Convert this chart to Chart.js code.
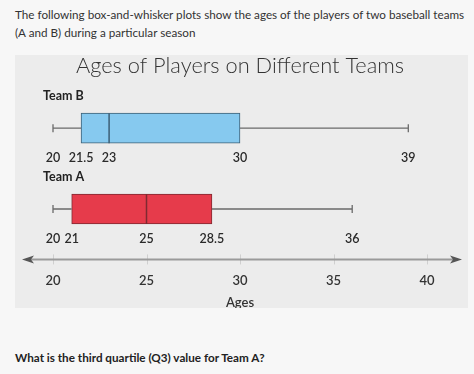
<!DOCTYPE html>
<html lang="en">
<head>
    <meta charset="UTF-8">
    <title>Ages of Players on Different Teams</title>
    <script src="https://cdn.jsdelivr.net/npm/chart.js"></script>
    <style>
        body {
            margin: 0;
            width: 474px;
            height: 374px;
            background: #f7f7f7;
            font-family: "Lato", sans-serif;
            color: #333;
            position: relative;
            overflow: hidden;
        }
        #intro {
            position: absolute;
            left: 15px;
            top: 5px;
            width: 455px;
            font-size: 11.7px;
            line-height: 18px;
        }
        #panel {
            position: absolute;
            left: 15px;
            top: 55px;
            width: 453px;
            height: 253px;
            background: #ececec;
        }
        #question {
            position: absolute;
            left: 15px;
            top: 350px;
            font-size: 11.7px;
            font-weight: bold;
            color: #222;
        }
    </style>
</head>
<body>

    <div id="intro">The following box-and-whisker plots show the ages of the players of two baseball teams (A and B) during a particular season</div>

    <div id="panel">
        <canvas id="myChart" width="453" height="253"></canvas>
    </div>

    <div id="question">What is the third quartile (Q3) value for Team A?</div>

    <script>
        // Dados dos box plots
        const teams = ['Team B', 'Team A'];
        const mins = [20, 20];
        const q1s = [21.5, 21];
        const medians = [23, 25];
        const q3s = [30, 28.5];
        const maxs = [39, 36];
        const axisTicks = [20, 25, 30, 35, 40];

        const fills = ['#86c9ef', '#e63b4b'];
        const borders = ['#3d5f75', '#7f2a31'];

        // Whiskers, mediana e rótulos
        const boxExtras = {
            id: 'boxExtras',
            afterDatasetsDraw(chart) {
                const c = chart.ctx;
                const x = chart.scales.x;
                const y = chart.scales.y;
                c.save();
                teams.forEach((t, i) => {
                    const cy = y.getPixelForValue(i);
                    // whiskers
                    c.strokeStyle = '#6a6a6a';
                    c.lineWidth = 1.3;
                    c.beginPath();
                    c.moveTo(x.getPixelForValue(mins[i]), cy);
                    c.lineTo(x.getPixelForValue(q1s[i]), cy);
                    c.moveTo(x.getPixelForValue(q3s[i]), cy);
                    c.lineTo(x.getPixelForValue(maxs[i]), cy);
                    [mins[i], maxs[i]].forEach(v => {
                        const px = x.getPixelForValue(v);
                        c.moveTo(px, cy - 4);
                        c.lineTo(px, cy + 4);
                    });
                    c.stroke();
                    // mediana
                    c.strokeStyle = borders[i];
                    c.lineWidth = 1.5;
                    c.beginPath();
                    const mx = x.getPixelForValue(medians[i]);
                    c.moveTo(mx, cy - 15);
                    c.lineTo(mx, cy + 15);
                    c.stroke();
                    // nome do time
                    c.fillStyle = '#222';
                    c.font = 'bold 12.5px Lato';
                    c.textAlign = 'left';
                    c.textBaseline = 'middle';
                    c.fillText(t, 28, cy - 32);
                    // valores
                    c.fillStyle = '#2a2a2a';
                    c.font = '600 12.5px Lato';
                    c.textAlign = 'center';
                    [mins[i], q1s[i], medians[i], q3s[i], maxs[i]].forEach(v => {
                        c.fillText(String(v), x.getPixelForValue(v), cy + 30);
                    });
                });
                c.restore();
            }
        };

        // Eixo com setas e título "Ages"
        const arrowAxis = {
            id: 'arrowAxis',
            afterDraw(chart) {
                const c = chart.ctx;
                const x = chart.scales.x;
                const ay = chart.chartArea.bottom + 10;
                const left = 7, right = 447;
                c.save();
                c.strokeStyle = '#cfcfcf';
                c.lineWidth = 1;
                axisTicks.forEach(v => {
                    const px = Math.round(x.getPixelForValue(v)) + 0.5;
                    c.beginPath();
                    c.moveTo(px, ay - 5);
                    c.lineTo(px, ay + 5);
                    c.stroke();
                });
                c.strokeStyle = '#9a9a9a';
                c.lineWidth = 2;
                c.beginPath();
                c.moveTo(left + 4, ay);
                c.lineTo(right - 4, ay);
                c.stroke();
                c.fillStyle = '#555';
                c.beginPath();
                c.moveTo(left, ay);
                c.lineTo(left + 12, ay - 4);
                c.lineTo(left + 9, ay);
                c.lineTo(left + 12, ay + 4);
                c.closePath();
                c.fill();
                c.beginPath();
                c.moveTo(right, ay);
                c.lineTo(right - 12, ay - 4);
                c.lineTo(right - 9, ay);
                c.lineTo(right - 12, ay + 4);
                c.closePath();
                c.fill();
                c.fillStyle = '#333';
                c.font = '600 13px Lato';
                c.textAlign = 'center';
                c.textBaseline = 'middle';
                c.fillText('Ages', (x.left + x.right) / 2, ay + 43);
                c.restore();
            }
        };

        const ctx = document.getElementById('myChart').getContext('2d');
        const myChart = new Chart(ctx, {
            type: 'bar',
            data: {
                labels: teams,
                datasets: [{
                    data: teams.map((t, i) => [q1s[i], q3s[i]]),
                    backgroundColor: fills,
                    borderColor: borders,
                    borderWidth: 1,
                    borderSkipped: false,
                    barThickness: 30
                }]
            },
            options: {
                indexAxis: 'y',
                responsive: false,
                animation: false,
                layout: {
                    padding: { left: 38, right: 41, top: 0, bottom: -5 }
                },
                plugins: {
                    legend: { display: false },
                    tooltip: { enabled: false },
                    title: {
                        display: true,
                        text: 'Ages of Players on Different Teams',
                        color: '#333',
                        font: { family: 'Lato', size: 21.8, weight: '300', lineHeight: 1 },
                        padding: { top: 0, bottom: 11 }
                    }
                },
                scales: {
                    x: {
                        type: 'linear',
                        min: 20,
                        max: 40,
                        afterBuildTicks: s => { s.ticks = axisTicks.map(v => ({ value: v })); },
                        grid: { display: false, drawTicks: false },
                        border: { display: false },
                        ticks: {
                            padding: 24,
                            color: '#333',
                            font: { family: 'Lato', size: 13, weight: '600' }
                        }
                    },
                    y: {
                        display: false
                    }
                }
            },
            plugins: [boxExtras, arrowAxis]
        });
    </script>

</body>
</html>
